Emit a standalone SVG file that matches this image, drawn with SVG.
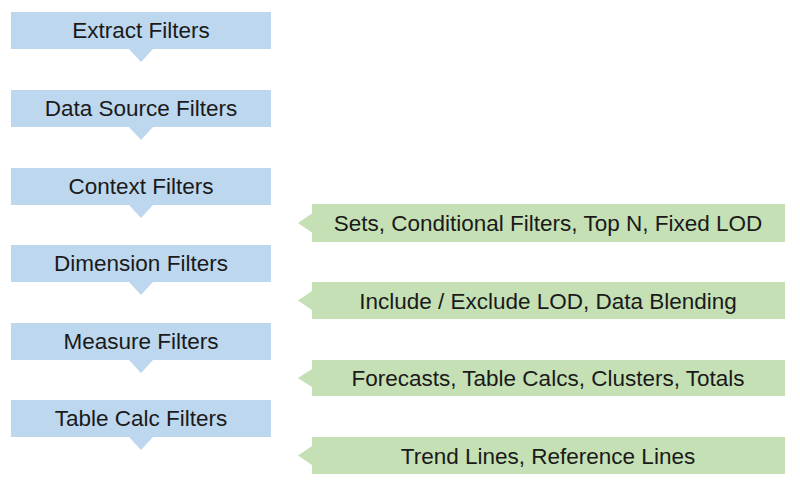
<svg xmlns="http://www.w3.org/2000/svg" width="800" height="488" viewBox="0 0 800 488">
<style>
.b{fill:#bdd7ee}
.g{fill:#c5e0b4}
text{font-family:"Liberation Sans","DejaVu Sans",sans-serif;font-size:22.5px;fill:#1a1a1a;text-anchor:middle}
</style>
<rect width="800" height="488" fill="#ffffff"/>
<g id="extract"><path class="b" d="M11,12H271V49H153L141,62L129,49H11Z"/><text x="141" y="38">Extract Filters</text></g>
<g id="datasource"><path class="b" d="M11,90H271V127H153L141,140L129,127H11Z"/><text x="141" y="116">Data Source Filters</text></g>
<g id="context"><path class="b" d="M11,168H271V205H153L141,218L129,205H11Z"/><text x="141" y="194">Context Filters</text></g>
<g id="dimension"><path class="b" d="M11,245H271V282H153L141,295L129,282H11Z"/><text x="141" y="271">Dimension Filters</text></g>
<g id="measure"><path class="b" d="M11,323H271V360H153L141,373L129,360H11Z"/><text x="141" y="349">Measure Filters</text></g>
<g id="tablecalc"><path class="b" d="M11,400H271V437H153L141,450L129,437H11Z"/><text x="141" y="426">Table Calc Filters</text></g>
<g id="sets"><path class="g" d="M312,204H785V242H312V232.5L298,223L312,213.5Z"/><text x="548" y="231">Sets, Conditional Filters, Top N, Fixed LOD</text></g>
<g id="include"><path class="g" d="M312,282H785V319H312V310L298,300.5L312,291Z"/><text x="548" y="308.5">Include / Exclude LOD, Data Blending</text></g>
<g id="forecasts"><path class="g" d="M312,360H785V396H312V387L298,378L312,369Z"/><text x="548" y="386">Forecasts, Table Calcs, Clusters, Totals</text></g>
<g id="trend"><path class="g" d="M312,437H785V474H312V465L298,455.5L312,446Z"/><text x="548" y="463.5">Trend Lines, Reference Lines</text></g>
<g id="connectors"></g>
</svg>
